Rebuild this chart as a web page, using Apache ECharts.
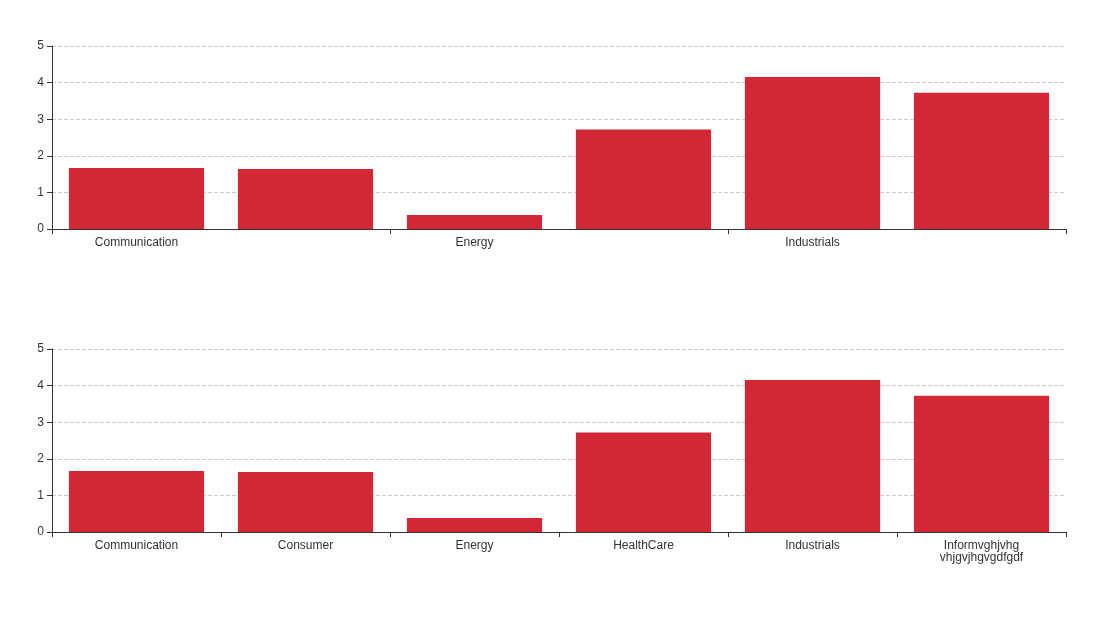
<!DOCTYPE html>
<html><head><meta charset="utf-8">
<script src="https://cdn.jsdelivr.net/npm/echarts@6/dist/echarts.min.js"></script>
<style>html,body{margin:0;padding:0;background:#fff}#c{width:1119px;height:617px}</style>
</head><body><div id="c"></div>
<script>
const categories = ['Communication','Consumer','Energy','HealthCare','Industrials','Informvghjvhg\nvhjgvjhgvgdfgdf'];
const topValues = [1.67, 1.64, 0.38, 2.72, 4.15, 3.72];
const bottomValues = [1.67, 1.64, 0.38, 2.72, 4.15, 3.72];
const yTicks = {min: 0, max: 5, interval: 1};
const barColor = '#d22735';
const font = 'Liberation Sans, Arial, sans-serif';
const chart = echarts.init(document.getElementById('c'), null, {renderer:'canvas'});
function xAxis(idx, interval){
  return {type:'category', gridIndex:idx, data:categories,
    axisLine:{lineStyle:{color:'#333'}}, axisTick:{show:true, length:5, lineStyle:{color:'#333'}, interval:interval},
    axisLabel:{interval:interval, color:'#333', fontSize:12, fontFamily:font, margin:8, lineHeight:12}};
}
function yAxis(idx){
  return {type:'value', gridIndex:idx, min:yTicks.min, max:yTicks.max, interval:yTicks.interval,
    axisLine:{show:true, lineStyle:{color:'#333'}}, axisTick:{show:true, lineStyle:{color:'#333'}},
    axisLabel:{color:'#333', fontSize:12, fontFamily:font, margin:8},
    splitLine:{lineStyle:{type:'dashed', color:'#ccc'}}};
}
chart.setOption({
  animation:false,
  grid:[{left:52, right:53, top:46, bottom:388, containLabel:false},
        {left:52, right:53, top:349, bottom:85, containLabel:false}],
  xAxis:[xAxis(0,1), xAxis(1,0)],
  yAxis:[yAxis(0), yAxis(1)],
  series:[
    {type:'bar', xAxisIndex:0, yAxisIndex:0, data:topValues, itemStyle:{color:barColor}, barCategoryGap:'20%'},
    {type:'bar', xAxisIndex:1, yAxisIndex:1, data:bottomValues, itemStyle:{color:barColor}, barCategoryGap:'20%'}
  ]
});
</script></body></html>
